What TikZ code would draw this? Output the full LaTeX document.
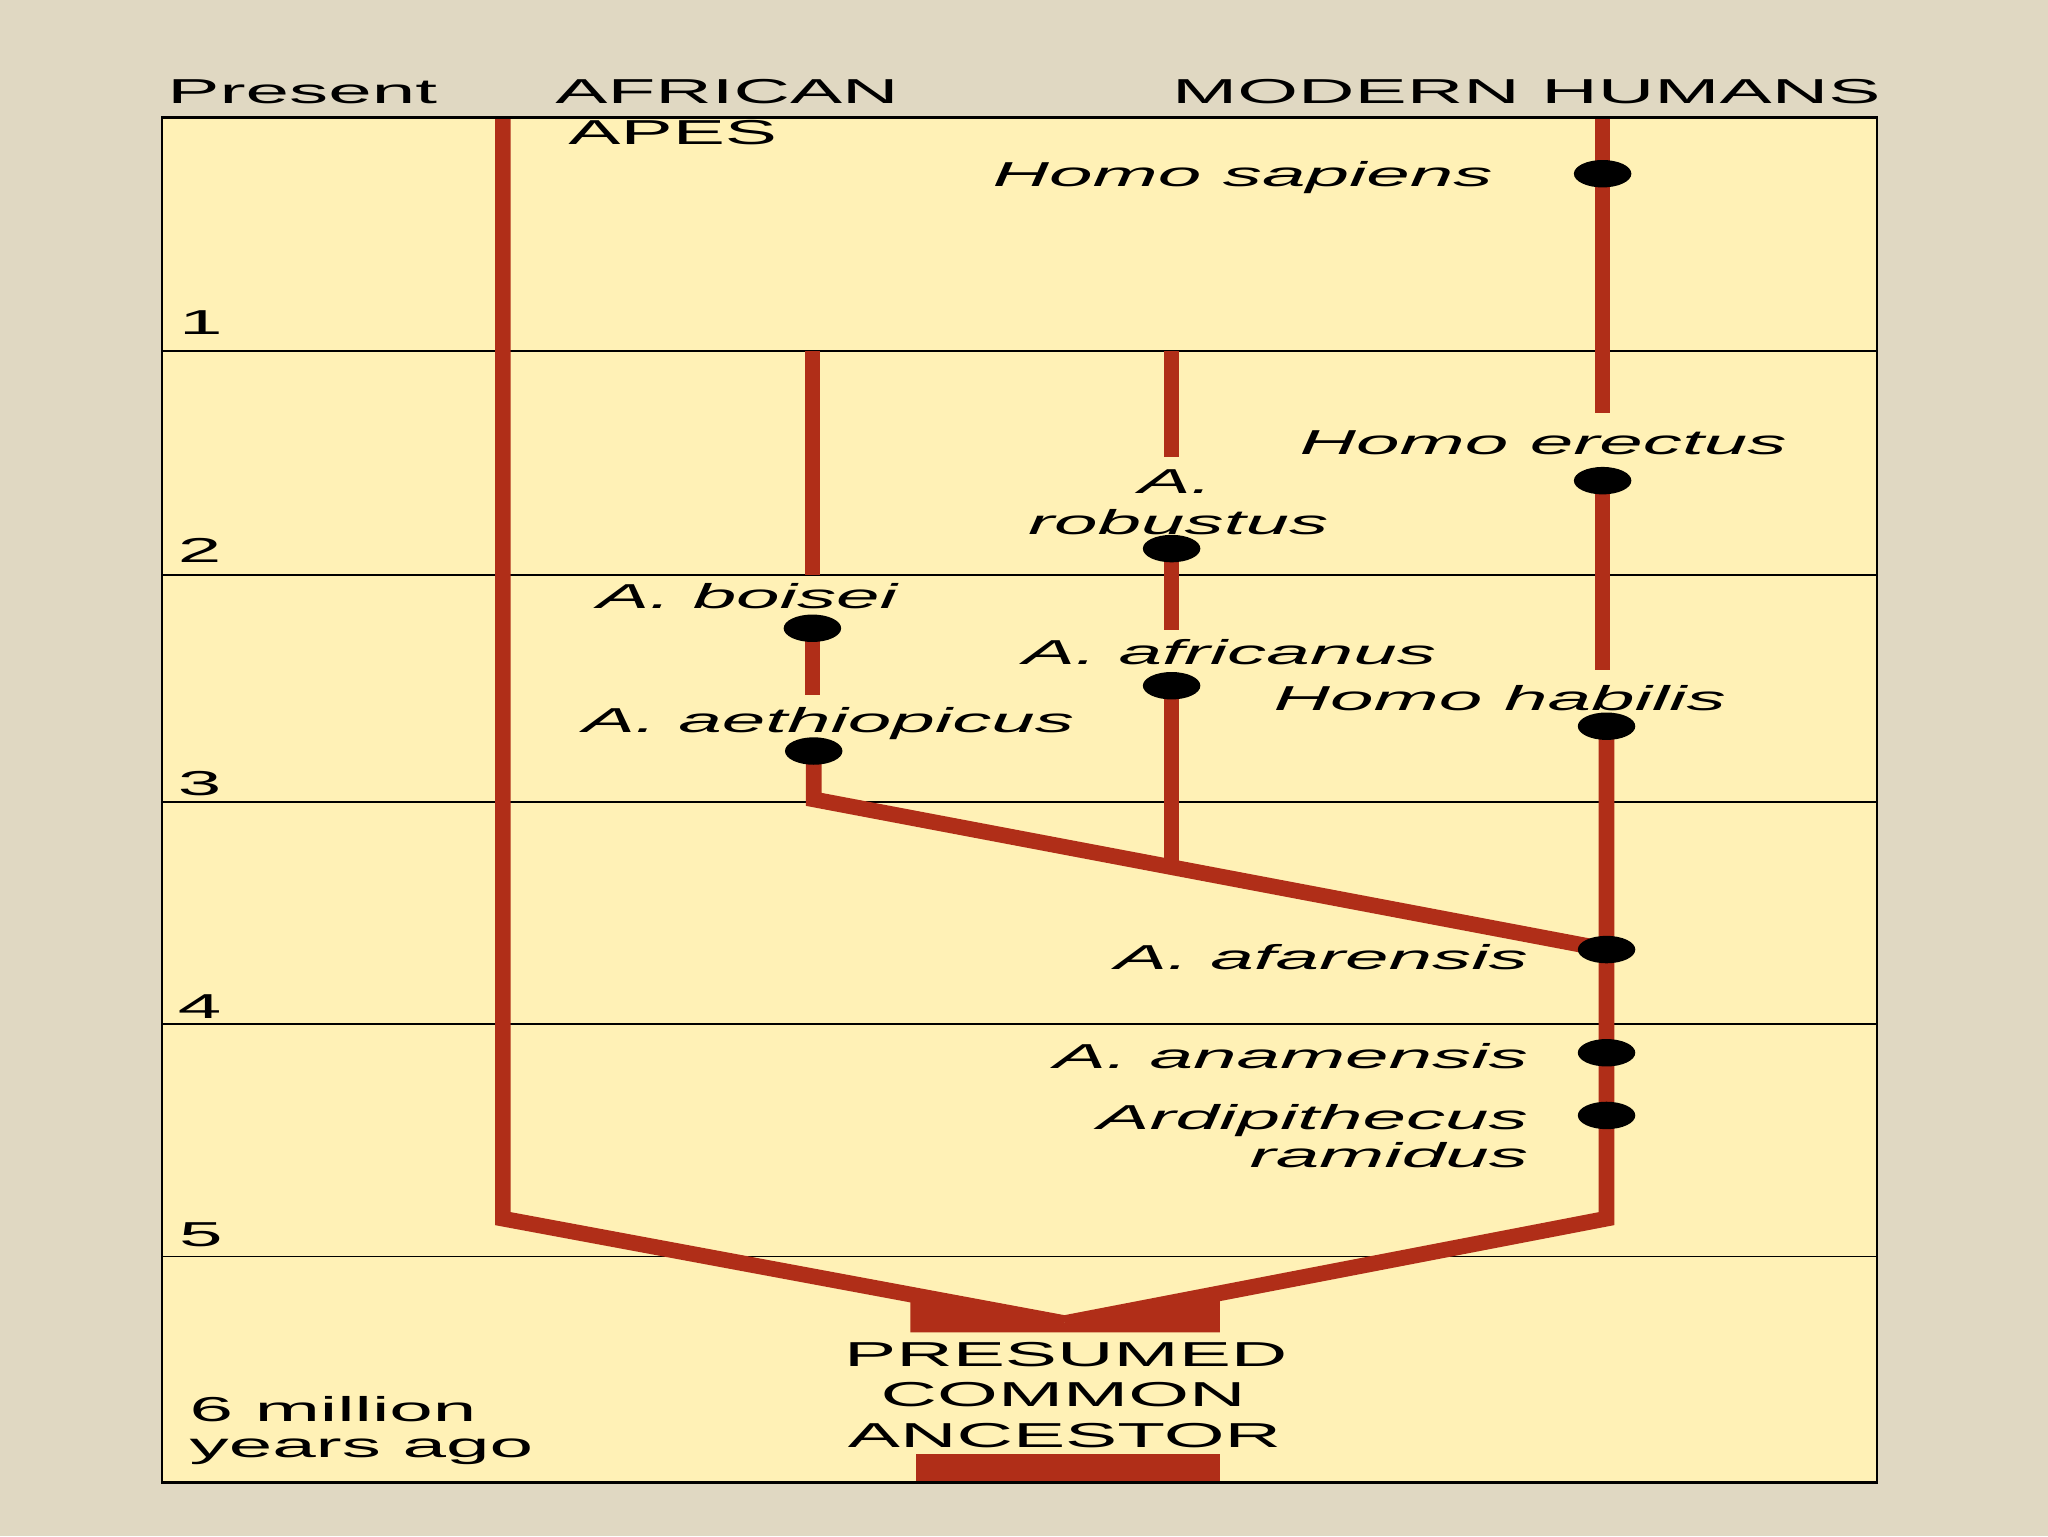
\documentclass[tikz,border=0pt]{standalone}
\usepackage{fontspec}
\setmainfont{Liberation Sans}
\newfontfamily\widefont[FakeStretch=2.26]{Liberation Sans}
\usetikzlibrary{shapes.geometric}
\definecolor{outerbg}{RGB}{224,216,194}
\definecolor{panel}{RGB}{255,241,182}
\definecolor{lineage}{RGB}{176,46,24}
\pgfdeclarelayer{back}
\pgfdeclarelayer{mid}
\pgfsetlayers{back,mid,main}
\tikzset{
  lbl/.style={font=\widefont\fontsize{26.5}{31}\selectfont, inner sep=0pt},
  sp/.style={font=\widefont\itshape\fontsize{26.5}{31}\selectfont, inner sep=0pt},
  lin/.style={draw=lineage, line width=12pt},
  grid/.style={draw=black, line width=1.5pt},
  dot/.style={ellipse, fill=black, minimum width=44pt, minimum height=21pt, inner sep=0pt},
}
\begin{document}
\begin{tikzpicture}[x=1pt,y=-1pt]
\begin{pgfonlayer}{back}
\fill[outerbg] (0,0) rectangle (1568,1176);
\useasboundingbox (0,0) rectangle (1568,1176);
\fill[panel] (124,90) rectangle (1437,1135);
\foreach \yy in {269,440,614,784,962} \draw[grid] (124,\yy) -- (1437,\yy);
\end{pgfonlayer}

% coordinates
\coordinate (apetop) at (385,90);
\coordinate (apebend) at (385,933);
\coordinate (root) at (815,1013);
\coordinate (hometop) at (1227,90);
\coordinate (homeend) at (1227,316);
\coordinate (hemid) at (1227,513);
\coordinate (homebend) at (1230,933);
\coordinate (robtop) at (897,269);
\coordinate (robend) at (897,350);
\coordinate (robmid) at (897,482);
\coordinate (robjoin) at (897,663);
\coordinate (boitop) at (622,269);
\coordinate (boiend) at (622,440);
\coordinate (boimid) at (622,532);
\coordinate (aethbend) at (623,612);

% dots
\node[dot] (hsap) at (1227,133) {};
\node[dot] (hero) at (1227,368) {};
\node[dot] (hhab) at (1230,556) {};
\node[dot] (afar) at (1230,727) {};
\node[dot] (anam) at (1230,806) {};
\node[dot] (ardi) at (1230,854) {};
\node[dot] (robu) at (897,420) {};
\node[dot] (afri) at (897,525) {};
\node[dot] (bois) at (622,481) {};
\node[dot] (aeth) at (623,575) {};

\begin{pgfonlayer}{mid}
\draw[lin] (apetop) -- (apebend) -- (root);
\draw[lin] (hometop) -- (homeend);
\draw[lin] (hero.center) -- (hemid);
\draw[lin] (hhab.center) -- (homebend) -- (root);
\draw[lin] (robtop) -- (robend);
\draw[lin] (robu.center) -- (robmid);
\draw[lin] (afri.center) -- (robjoin);
\draw[lin] (boitop) -- (boiend);
\draw[lin] (bois.center) -- (boimid);
\draw[lin] (aeth.center) -- (aethbend) -- (afar.center);
\fill[lineage] (697,991) -- (root) -- (934,990) -- (934,1020) -- (697,1020) -- cycle;
\fill[lineage] (701,1113) rectangle (934,1135);
\end{pgfonlayer}

\draw[black, line width=2pt] (124,90) rectangle (1437,1135);

% headings
\node[lbl, anchor=base west] (present) at (128,79) {Present};
\node[lbl, anchor=base west] (african) at (425,79) {AFRICAN};
\node[lbl, anchor=base west] (apes) at (435,111) {APES};
\node[lbl, anchor=base east] (modern) at (1440,79) {MODERN HUMANS};

% time scale
\node[lbl, anchor=base west] (t1) at (137,256) {1};
\node[lbl, anchor=base west] (t2) at (136,431) {2};
\node[lbl, anchor=base west] (t3) at (136,609) {3};
\node[lbl, anchor=base west] (t4) at (136,780) {4};
\node[lbl, anchor=base west] (t5) at (137,954) {5};
\node[lbl, anchor=base west] (t6a) at (145,1088) {6 million};
\node[lbl, anchor=base west] (t6b) at (145,1116) {years ago};

% species
\node[sp, anchor=base east] (lsap) at (1143,143) {Homo sapiens};
\node[sp, anchor=base east] (lero) at (1368,348) {Homo erectus};
\node[sp, anchor=base] (lrob1) at (900,378) {A.};
\node[sp, anchor=base] (lrob2) at (902,409) {robustus};
\node[sp, anchor=base west] (lbois) at (457,466) {A. boisei};
\node[sp, anchor=base west] (lafri) at (783,509) {A. africanus};
\node[sp, anchor=base west] (lhab) at (975,544) {Homo habilis};
\node[sp, anchor=base west] (laeth) at (446,561) {A. aethiopicus};
\node[sp, anchor=base east] (lafar) at (1170,742) {A. afarensis};
\node[sp, anchor=base east] (lanam) at (1170,818) {A. anamensis};
\node[sp, anchor=base east] (lardi1) at (1170,865) {Ardipithecus};
\node[sp, anchor=base east] (lardi2) at (1170,894) {ramidus};

% ancestor
\node[lbl, anchor=base] (anc1) at (816,1046) {PRESUMED};
\node[lbl, anchor=base] (anc2) at (814,1077) {COMMON};
\node[lbl, anchor=base] (anc3) at (815,1108) {ANCESTOR};
\end{tikzpicture}
\end{document}
